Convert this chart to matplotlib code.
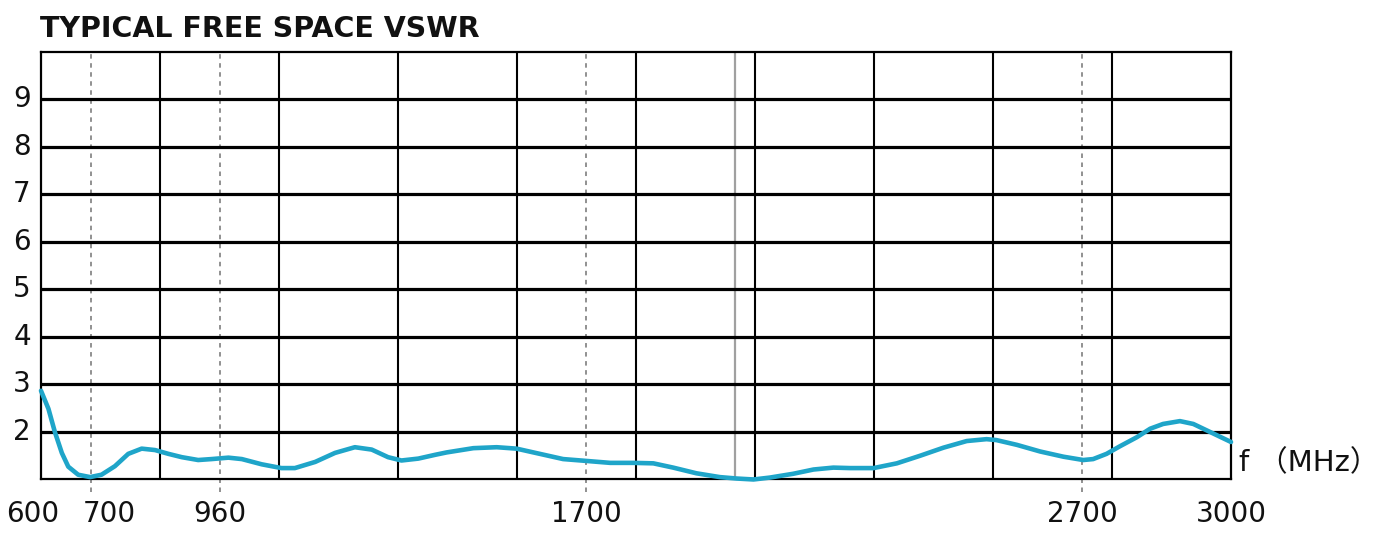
import matplotlib
matplotlib.use('Agg')
import matplotlib.pyplot as plt

# frequency (MHz) and VSWR
freq = [600, 615, 628, 642, 655, 675, 699, 722, 749, 776, 803, 830, 857, 884,
        917, 944, 978, 1005, 1045, 1085, 1112, 1153, 1193, 1233, 1267, 1300,
        1327, 1361, 1395, 1418, 1472, 1519, 1559, 1606, 1653, 1701, 1748,
        1795, 1835, 1875, 1922, 1969, 2003, 2037, 2070, 2117, 2158, 2198,
        2232, 2279, 2326, 2373, 2420, 2467, 2507, 2527, 2568, 2615, 2662,
        2702, 2722, 2749, 2776, 2810, 2837, 2863, 2897, 2924, 2958, 3000]
vswr = [2.86, 2.48, 1.99, 1.55, 1.26, 1.09, 1.04, 1.09, 1.27, 1.53, 1.64, 1.61,
        1.53, 1.46, 1.40, 1.42, 1.45, 1.42, 1.31, 1.23, 1.23, 1.36, 1.55, 1.67,
        1.62, 1.46, 1.39, 1.43, 1.51, 1.56, 1.65, 1.67, 1.64, 1.53, 1.42, 1.38,
        1.34, 1.34, 1.33, 1.24, 1.12, 1.04, 1.01, 0.99, 1.03, 1.11, 1.20, 1.24,
        1.23, 1.23, 1.33, 1.49, 1.66, 1.80, 1.84, 1.82, 1.72, 1.58, 1.47, 1.40,
        1.42, 1.53, 1.69, 1.88, 2.06, 2.16, 2.22, 2.16, 1.99, 1.78]

grid_freqs = [600, 840, 1080, 1320, 1560, 1800, 2040, 2280, 2520, 2760, 3000]
marked_freqs = [700, 960, 1700, 2700]
band_edge = 2000
x_labels = [600, 700, 960, 1700, 2700, 3000]
y_labels = [2, 3, 4, 5, 6, 7, 8, 9]

plt.rcParams['font.family'] = ['DejaVu Sans', 'Noto Sans CJK SC']

fig = plt.figure(figsize=(13.79, 5.36), dpi=100)
ax = fig.add_axes([41 / 1379, 57 / 536, 1190 / 1379, 427 / 536])
ax.set_xlim(600, 3000)
ax.set_ylim(1, 10)

for f in marked_freqs:
    ax.axvline(f, ymin=-0.03, ymax=1, color='#888888', lw=1.3,
               ls=(0, (2.5, 2.5)), clip_on=False, zorder=1)
ax.axvline(band_edge, color='#a0a0a0', lw=1.6, zorder=1)
for f in grid_freqs[1:-1]:
    ax.axvline(f, color='black', lw=1.5, zorder=2)
for v in y_labels:
    ax.axhline(v, color='black', lw=2.3, zorder=2)

ax.plot(freq, vswr, color='#1fa5c9', lw=3.3, solid_joinstyle='round',
        solid_capstyle='round', zorder=3, clip_on=False)

for s in ax.spines.values():
    s.set_linewidth(1.6)

ax.set_xticks([])
ax.set_yticks([])

for v in y_labels:
    ax.text(-0.016, v, str(v), transform=ax.get_yaxis_transform(),
            ha='center', va='center', fontsize=20, color='#111111')

label_shift = {600: -8, 700: 19}
for f in x_labels:
    ax.annotate(str(f), xy=(f, 1), xycoords='data',
                xytext=(label_shift.get(f, 0) * 0.72, -25), textcoords='offset points',
                ha='center', va='center', fontsize=20, color='#111111',
                annotation_clip=False)

ax.text(1.007, 1.33, 'f （MHz）', transform=ax.get_yaxis_transform(),
        ha='left', va='center', fontsize=21, color='#111111')

fig.text(40 / 1379, 1 - 29 / 536, 'TYPICAL FREE SPACE VSWR', ha='left', va='center',
         fontsize=20.5, fontweight='bold', color='#111111')

fig.savefig('out.png', dpi=100, facecolor='white')
